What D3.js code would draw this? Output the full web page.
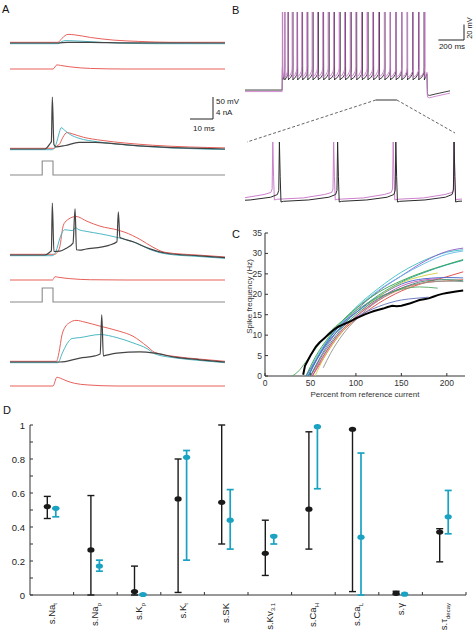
<!DOCTYPE html>
<html>
<head>
<meta charset="utf-8">
<script src="https://cdn.jsdelivr.net/npm/d3@7"></script>
<style>
  body { margin: 0; background: #fff; }
  svg { display: block; font-family: "Liberation Sans", Arial, sans-serif; }
</style>
</head>
<body>
<svg id="fig" width="474" height="633"></svg>
<script>
// ---------- Panel A: voltage traces (ms, mV above rest) and currents (ms, nA)
const a1Red   = [[0,0],[20.9,0],[22.6,9],[25.2,18],[28,17],[35,11],[45,5],[56,2],[70,0],[93.5,0]];
const a1Cyan  = [[0,0],[20.9,0],[22.6,5],[24,7],[30,6],[40,3],[50,1],[65,0],[93.5,0]];
const a1Black = [[0,0],[20.9,0],[25,1.5],[35,1.5],[50,0.5],[93.5,0]];
const a1Cur   = [[0,0],[18.7,0],[20.4,0.75],[22,0.65],[26,0.4],[35,0.1],[50,0],[93.5,0]];

const a2Black = [[0,0],[15.2,0],[17.4,12],[18,17],[18.4,118],[19.1,10],[20,5],[24,8],[30,15],[37,15],[45,12],[60,6],[75,2.5],[93.5,0]];
const a2Cyan  = [[0,0],[18.5,0],[20,12],[21.5,40],[22.2,50],[24,43],[26,35],[30,26],[38,18],[48,12],[60,7],[75,3],[93.5,0.5]];
const a2Red   = [[0,0],[19.4,0],[20.4,6],[21.3,8],[23,25],[24.8,36],[27,33],[32,25],[40,18],[50,12],[62,7],[78,3],[93.5,1]];

const a3Black = [[0,0],[15.2,0],[17.4,7],[18,10],[18.4,118],[19.1,8],[21.7,9],[24,14],[27.4,27],[28.3,105],[28.9,12],[30.4,11],[32.6,13],[43,22],[46.5,30],[47.1,98],[47.8,40],[48.7,38],[53.5,30],[60.9,14],[67.4,4.5],[82.6,-2],[93.5,-6]];
const a3Cyan  = [[0,0],[18.3,0],[20,10],[21.7,40],[22.6,52],[23.9,59],[27,57],[28.7,64],[29.5,60],[33.5,55],[39,50],[47,41],[54.3,30],[60.9,14],[67.4,4.5],[82.6,-2],[93.5,-6]];
const a3Red   = [[0,0],[19.4,0],[20.5,4],[21.7,18],[23,62],[23.9,73],[28.7,86],[33.5,75],[39.1,64],[47,55],[50,50],[56.5,34],[62.2,16],[67.4,4.5],[82.6,-2],[93.5,-6]];
const a3Cur   = [[0,0],[18.5,0],[19.6,0.6],[21,0.5],[26,0.25],[35,0.05],[50,0],[93.5,0]];

const a4Red   = [[0,0],[20.2,0],[21.3,20],[22.6,60],[24,78],[26,88],[28.7,93],[32.6,89],[39.1,80],[47.8,68],[53.5,57],[59.6,34],[63,20],[71.7,11],[82.6,5],[93.5,0]];
const a4Cyan  = [[0,0],[20.9,0],[22.6,20],[24.8,43],[27,55],[30.4,57],[39.1,64],[46.5,57],[53.5,45],[59.6,32],[63,20],[71.7,11],[82.6,5],[93.5,0]];
const a4Black = [[0,0],[21.7,0],[30.4,9],[37,14],[39.2,18],[39.9,107],[40.6,14],[41.5,15],[46.5,20],[56.5,23],[63,20],[71.7,11],[82.6,5],[93.5,0]];
const a4Cur   = [[0,0],[18.7,0],[20.4,1.6],[22,1.4],[24.8,0.9],[28,0.5],[33.5,0.2],[46.5,0],[93.5,0]];

const aStep   = [[0,0],[14,0],[14,2.55],[18.7,2.55],[18.7,0],[93.5,0]];

// ---------- Panel B: spike times (ms) and waveform pieces (mV)
const bBlackSpikes = [3,20,48,83,120,159,199,240,281,323,365,408,451,494,537,581,625,669,713,757,801,845,889,933,977,1021,1065,1109];
const bPinkSpikes  = [2,18,45,79,116,154,194,235,276,318,360,403,446,489,532,576,620,664,708,752,798,843,889,934,979,1024,1069,1114];
const bBlackShape = [[-1.5,-46],[-0.5,-40],[0,31],[0.6,-20],[1.2,-57],[3,-56]];
const bPinkShape  = [[-1.5,-43],[-0.5,-38],[0,31],[0.6,-20],[1.2,-54],[3,-53]];
const bBlackIsi = [[0.5,-54],[0.85,-50]];   // fraction of interval, mV
const bPinkIsi  = [[0.5,-51],[0.85,-46]];
const bBlackPre = [[-290,-70],[0,-70],[1,-50]];
const bPinkPre  = [[-290,-72],[0,-72],[1,-50]];
const bBlackPost = [[1130,-49],[1134,-76],[1150,-77],[1200,-75],[1310,-71]];
const bPinkPost  = [[1130,-47],[1134,-79],[1150,-80],[1200,-78],[1310,-74]];
const bZoomWindow = [731, 895];

// ---------- Panel C: f-I curves (percent, Hz)
const cBlack = [[42,0.3],[44,2.5],[50,5],[56,7.2],[60,8.2],[65,9.2],[70,10.2],[75,11.2],[80,12],[85,12.5],[90,13],[95,13.5],[100,14.1],[105,14.6],[110,15.1],[115,15.5],[120,15.9],[125,16.2],[130,16.5],[135,16.9],[140,17.2],[145,17.1],[150,17.2],[155,17.5],[160,17.8],[165,18.2],[170,18.6],[175,18.8],[180,19],[185,19.4],[190,19.8],[195,20.1],[200,20.3],[205,20.5],[210,20.7],[218,20.9]];
const cLines = [
  [[48,0],[55,3.5],[65,7.5],[80,12],[100,16.8],[125,21.5],[150,25.4],[175,28.3],[200,30.3],[218,30.9]],
  [[50,0],[58,3.5],[70,8],[85,12.5],[100,16],[125,20.8],[150,24.5],[175,28],[200,30.5],[218,31.3]],
  [[46,0],[55,4],[70,9],[85,13],[100,16.5],[125,21],[150,24.5],[175,27.5],[200,29.8],[218,30.6]],
  [[45,0],[55,4.5],[70,9.5],[85,13.5],[100,16.5],[125,20.5],[150,23.3],[175,25.5],[200,27.3],[218,28.5]],
  [[47,0],[57,4],[72,9],[88,13],[100,15.5],[125,19.8],[150,23],[175,25.3],[200,27.2],[218,28.3]],
  [[52,0],[62,3.5],[75,8],[90,12],[100,13.8],[125,17.8],[150,20.8],[175,22.8],[200,24.3],[218,25.5]],
  [[50,0],[60,3.5],[75,8.5],[90,12.5],[100,14.5],[125,18.5],[150,21.3],[175,22.8],[200,23.3],[218,23.6]],
  [[48,0],[58,4.5],[72,9.5],[88,13.5],[100,15.5],[125,19.5],[150,22.5],[175,23.8],[200,24.1],[218,24]],
  [[64,2],[72,5.5],[85,10],[100,13.8],[125,18.5],[150,21.5],[175,22.8],[200,23.2],[218,23.1]],
  [[55,0],[65,4.5],[80,9.5],[100,14.5],[125,19.5],[150,22.8],[170,24.3],[190,25.2]],
  [[30,0],[36,1],[45,3.5],[55,6.5],[70,10.5],[85,13.5],[100,16],[125,19.3],[150,21.2],[170,21.8],[190,21.5]],
  [[45,0],[55,3.5],[70,8.5],[85,12],[100,14.3],[125,17],[150,18.6],[165,19],[180,19.3]],
  [[52,0],[62,4],[75,8.5],[90,12.5],[100,14.5],[125,18.8],[150,22],[175,23.5],[190,23.8]],
  [[50,0],[60,4],[75,9],[90,13],[100,15],[125,19],[150,21.5],[175,23.2],[200,23.6],[218,23.3]]
];
const cColors = ["#3cc0c0","#8a5ac8","#60b8e8","#30a040","#20a090","#e04040","#e07050","#4060c8","#909090","#d0d040","#50a860","#6070c0","#c050b0","#3a8a6a"];
const cXTicks = [0, 50, 100, 150, 200];
const cYTicks = [0, 5, 10, 15, 20, 25, 30, 35];

// ---------- Panel D: parameter estimates
const dNames = ["s.Na", "s.Na", "s.K", "s.K", "s.SK", "s.Kv", "s.Ca", "s.Ca", "s.γ", "s.τ"];
const dSubs  = ["t", "p", "p", "t", "", "3.1", "H", "L", "", "decay"];
const dBlackMean = [0.52, 0.265, 0.02, 0.565, 0.545, 0.245, 0.505, 0.975, 0.01, 0.37];
const dBlackLo   = [0.45, 0, 0, 0.015, 0.30, 0.115, 0.27, 0.02, 0.003, 0.195];
const dBlackHi   = [0.58, 0.585, 0.17, 0.80, 1.0, 0.44, 0.96, 0.975, 0.022, 0.39];
const dCyanMean  = [0.51, 0.17, 0.003, 0.81, 0.44, 0.345, 0.99, 0.34, 0.005, 0.46];
const dCyanLo    = [0.46, 0.14, 0, 0.205, 0.27, 0.30, 0.625, 0, 0.002, 0.36];
const dCyanHi    = [0.51, 0.205, 0.005, 0.85, 0.62, 0.35, 0.99, 0.835, 0.008, 0.615];
const dYTicks = [0, 0.2, 0.4, 0.6, 0.8, 1];

const RED = "#e8605a", CYAN = "#4cb8c4", DARK = "#444", GREY = "#8a8a8a";
const PINK = "#cc80cc", BLK = "#2a2a2a", DCYAN = "#1aa2c2";

const svg = d3.select("#fig");

function panelLabel(txt, x, y) {
  svg.append("text").attr("x", x).attr("y", y).attr("font-size", 11).attr("fill", "#111").text(txt);
}

// ================= A =================
panelLabel("A", 2, 13);
const xA = d3.scaleLinear().domain([0, 93.5]).range([10, 225]);
const vA = base => d3.scaleLinear().domain([0, 50]).range([base, base - 22]);
const iA = base => d3.scaleLinear().domain([0, 4]).range([base, base - 22]);
const gA = svg.append("g").attr("fill", "none");

function traceA(data, yScale, color, w, dy, curve) {
  const line = d3.line()
    .x(d => xA(d[0]))
    .y(d => yScale(d[1]) + dy)
    .curve(curve || d3.curveMonotoneX);
  gA.append("path").attr("d", line(data)).attr("stroke", color).attr("stroke-width", w);
}

const groups = [
  {base: 43,  red: a1Red, cyan: a1Cyan, black: a1Black, cur: a1Cur, curBase: 69},
  {base: 149, red: a2Red, cyan: a2Cyan, black: a2Black, step: aStep, stepBase: 175},
  {base: 255, red: a3Red, cyan: a3Cyan, black: a3Black, cur: a3Cur, curBase: 280, step: aStep, stepBase: 302},
  {base: 362, red: a4Red, cyan: a4Cyan, black: a4Black, cur: a4Cur, curBase: 386}
];
groups.forEach(g => {
  const v = vA(g.base);
  traceA(g.red, v, RED, 1, -0.7);
  traceA(g.cyan, v, CYAN, 1, 0.7);
  traceA(g.black, v, DARK, 1.2, 0);
  if (g.cur) traceA(g.cur, iA(g.curBase), RED, 1, 0);
  if (g.step) traceA(g.step, iA(g.stepBase), GREY, 1.1, 0, d3.curveLinear);
});

// scale bar A (10 ms, 50 mV / 4 nA)
const sbX = 213, sbY = 119;
gA.append("path")
  .attr("d", `M${sbX - (xA(10) - xA(0))},${sbY}H${sbX}V${vA(sbY)(50)}`)
  .attr("stroke", "#222").attr("stroke-width", 1);
const tA = svg.append("g").attr("font-size", 8).attr("fill", "#222");
tA.append("text").attr("x", 216).attr("y", 104).text("50 mV");
tA.append("text").attr("x", 216).attr("y", 115).text("4 nA");
tA.append("text").attr("x", 193).attr("y", 131).text("10 ms");

// ================= B =================
panelLabel("B", 232, 14);
const xB = d3.scaleLinear().domain([-290, 1310]).range([245, 450]);
const yB = d3.scaleLinear().domain([-57, 31]).range([80, 12]);

function buildTrace(spikes, shape, isi, pre, post) {
  const pts = pre.slice();
  spikes.forEach((t, k) => {
    shape.forEach(s => pts.push([t + s[0], s[1]]));
    const next = k < spikes.length - 1 ? spikes[k + 1] : null;
    if (next !== null) {
      isi.forEach(f => pts.push([t + f[0] * (next - t), f[1]]));
    }
  });
  return pts.concat(post);
}
const bBlack = buildTrace(bBlackSpikes, bBlackShape, bBlackIsi, bBlackPre, bBlackPost);
const bPink  = buildTrace(bPinkSpikes, bPinkShape, bPinkIsi, bPinkPre, bPinkPost);

const gB = svg.append("g").attr("fill", "none");
const lineB = d3.line().x(d => xB(d[0])).y(d => yB(d[1]));
gB.append("path").attr("d", lineB(bBlack)).attr("stroke", BLK).attr("stroke-width", 0.9);
gB.append("path").attr("d", lineB(bPink)).attr("stroke", PINK).attr("stroke-width", 0.9);

// scale bar B (200 ms, 20 mV)
const sbBx = 464;
gB.append("path")
  .attr("d", `M${sbBx - (xB(200) - xB(0))},40H${sbBx}V${40 - (yB(0) - yB(20))}`)
  .attr("stroke", "#222").attr("stroke-width", 1);
svg.append("text").attr("x", 452).attr("y", 49).attr("font-size", 8).attr("text-anchor", "middle").attr("fill", "#222").text("200 ms");
svg.append("text").attr("transform", "translate(472,28) rotate(-90)").attr("font-size", 7.5)
  .attr("text-anchor", "middle").attr("fill", "#222").text("20 mV");

// zoom window marker and dashed guides
const zx0 = xB(bZoomWindow[0]), zx1 = xB(bZoomWindow[1]);
gB.append("line").attr("x1", zx0).attr("x2", zx1).attr("y1", 100).attr("y2", 100).attr("stroke", "#333").attr("stroke-width", 1);
gB.append("line").attr("x1", zx0).attr("y1", 100).attr("x2", 247).attr("y2", 142)
  .attr("stroke", "#555").attr("stroke-dasharray", "3,2").attr("stroke-width", 0.9);
gB.append("line").attr("x1", zx1).attr("y1", 100).attr("x2", 455).attr("y2", 133)
  .attr("stroke", "#555").attr("stroke-dasharray", "3,2").attr("stroke-width", 0.9);

// zoomed trace
const xBz = d3.scaleLinear().domain(bZoomWindow).range([245, 462]);
const yBz = d3.scaleLinear().domain([-57, 31]).range([202, 142]);
svg.append("clipPath").attr("id", "bz").append("rect").attr("x", 245).attr("y", 130).attr("width", 217).attr("height", 85);
const gBz = svg.append("g").attr("fill", "none").attr("clip-path", "url(#bz)");
const lineBz = d3.line().x(d => xBz(d[0])).y(d => yBz(d[1]));
gBz.append("path").attr("d", lineBz(bPink)).attr("stroke", PINK).attr("stroke-width", 1);
gBz.append("path").attr("d", lineBz(bBlack)).attr("stroke", BLK).attr("stroke-width", 1);

// ================= C =================
panelLabel("C", 232, 238);
const xC = d3.scaleLinear().domain([0, 220]).range([265, 465]);
const yC = d3.scaleLinear().domain([0, 35]).range([376, 233]);
const gC = svg.append("g");
const axC = gC.append("g").attr("font-size", 8.5).attr("fill", "#333");
axC.append("path").attr("d", `M${xC(0)},${yC(35)}V${yC(0)}H${xC(220)}`).attr("stroke", "#333").attr("fill", "none");
cYTicks.forEach(t => {
  axC.append("line").attr("x1", xC(0)).attr("x2", xC(0) + 3).attr("y1", yC(t)).attr("y2", yC(t)).attr("stroke", "#333");
  axC.append("text").attr("x", xC(0) - 3).attr("y", yC(t) + 3).attr("text-anchor", "end").text(t);
});
cXTicks.forEach(t => {
  axC.append("line").attr("x1", xC(t)).attr("x2", xC(t)).attr("y1", yC(0)).attr("y2", yC(0) - 3).attr("stroke", "#333");
  axC.append("text").attr("x", xC(t)).attr("y", yC(0) + 10).attr("text-anchor", "middle").text(t);
});
axC.append("text").attr("x", 365).attr("y", 397).attr("text-anchor", "middle").attr("font-size", 8).text("Percent from reference current");
axC.append("text").attr("transform", `translate(252,${(yC(0) + yC(35)) / 2 - 8}) rotate(-90)`)
  .attr("text-anchor", "middle").attr("font-size", 8).text("Spike frequency (Hz)");

const lineC = d3.line().x(d => xC(d[0])).y(d => yC(d[1])).curve(d3.curveMonotoneX);
cLines.forEach((l, i) => {
  gC.append("path").attr("d", lineC(l)).attr("fill", "none").attr("stroke", cColors[i]).attr("stroke-width", 0.9);
});
gC.append("path").attr("d", d3.line().x(d => xC(d[0])).y(d => yC(d[1]))(cBlack))
  .attr("fill", "none").attr("stroke", "#000").attr("stroke-width", 2);

// ================= D =================
panelLabel("D", 3, 414);
const xD = d3.scaleBand().domain(d3.range(dNames.length)).range([30, 466]);
const yD = d3.scaleLinear().domain([0, 1]).range([595, 425]);
const gD = svg.append("g");
gD.append("path").attr("d", `M${xD.range()[0]},${yD(1)}V${yD(0)}H${xD.range()[1]}`).attr("stroke", "#333").attr("fill", "none");
d3.range(0, 11).forEach(k => {
  const y = yD(k / 10);
  gD.append("line").attr("x1", 30).attr("x2", 33).attr("y1", y).attr("y2", y).attr("stroke", "#333");
});
dYTicks.forEach(t => {
  gD.append("text").attr("x", 25).attr("y", yD(t) + 3.5).attr("text-anchor", "end")
    .attr("font-size", 9.5).attr("fill", "#222").text(t);
});
d3.range(1, dNames.length + 1).forEach(k => {
  const x = k < dNames.length ? xD(k) : xD.range()[1];
  gD.append("line").attr("x1", x).attr("x2", x).attr("y1", yD(0)).attr("y2", yD(0) - 3).attr("stroke", "#333");
});
dNames.forEach((n, i) => {
  const cx = xD(i) + xD.bandwidth() / 2;
  const t = gD.append("text").attr("transform", `translate(${cx + 3},603) rotate(-90)`)
    .attr("text-anchor", "end").attr("font-size", 9.5).attr("fill", "#222");
  t.append("tspan").text(n);
  if (dSubs[i]) t.append("tspan").attr("dy", 2.5).attr("font-size", 6).text(dSubs[i]);
});

function errBars(mean, lo, hi, dx, color, w) {
  mean.forEach((m, i) => {
    const cx = xD(i) + xD.bandwidth() / 2 + dx;
    gD.append("line").attr("x1", cx).attr("x2", cx).attr("y1", yD(lo[i])).attr("y2", yD(hi[i]))
      .attr("stroke", color).attr("stroke-width", w);
    [lo[i], hi[i]].forEach(v => {
      gD.append("line").attr("x1", cx - 3.5).attr("x2", cx + 3.5).attr("y1", yD(v)).attr("y2", yD(v))
        .attr("stroke", color).attr("stroke-width", w);
    });
    gD.append("ellipse").attr("cx", cx).attr("cy", yD(m)).attr("rx", 3.6).attr("ry", 2.6).attr("fill", color);
  });
}
errBars(dBlackMean, dBlackLo, dBlackHi, -4.5, "#1a1a1a", 1.4);
errBars(dCyanMean, dCyanLo, dCyanHi, 4, DCYAN, 1.7);
</script>
</body>
</html>
